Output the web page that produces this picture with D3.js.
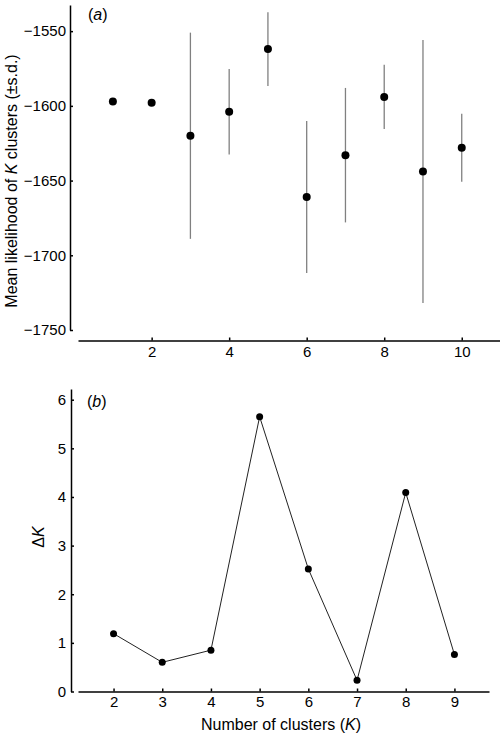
<!DOCTYPE html>
<html>
<head>
<meta charset="utf-8">
<script src="https://cdnjs.cloudflare.com/ajax/libs/d3/7.8.5/d3.min.js"></script>
<style>
  body { margin: 0; background: #fff; }
  svg { display: block; font-family: "Liberation Sans", Arial, sans-serif; }
  .axis path, .axis line { stroke: #000; stroke-width: 1.5; }
  .axis text { font-size: 15px; fill: #000; }
</style>
</head>
<body>
<div class="chart"></div>
<script>
// panel (a): mean likelihood per K with s.d.
const kA = [1, 2, 3, 4, 5, 6, 7, 8, 9, 10];
const meanA = [-1597, -1598, -1620, -1604, -1562, -1661, -1633, -1594, -1644, -1628];
const sdA = [0, 0, 69, 28.6, 24.7, 50.8, 45, 21.5, 88, 22.8];
const xTicksA = [2, 4, 6, 8, 10];
const yTicksA = [-1550, -1600, -1650, -1700, -1750];

// panel (b): delta K
const kB = [2, 3, 4, 5, 6, 7, 8, 9];
const deltaK = [1.19, 0.6, 0.85, 5.65, 2.52, 0.23, 4.09, 0.76];
const yTicksB = [0, 1, 2, 3, 4, 5, 6];

const width = 500, height = 736;
const fmt = d3.format('d');

const svg = d3.select('.chart')
    .append('svg')
    .attr('width', width)
    .attr('height', height);

// ---- panel (a)
const xA = d3.scaleLinear().domain([0.1, 11]).range([78, 500.5]);
const yA = d3.scaleLinear().domain([-1750, -1532.5]).range([330, 5]);

const pointsA = kA.map((k, i) => ({ k: k, mean: meanA[i], sd: sdA[i] }));

svg.append('g')
    .attr('class', 'axis')
    .attr('transform', 'translate(70,0)')
    .call(d3.axisLeft(yA).tickValues(yTicksA).tickFormat(fmt).tickSize(-3).tickSizeOuter(0).tickPadding(4));

svg.append('g')
    .attr('class', 'axis')
    .attr('transform', 'translate(0,340.5)')
    .call(d3.axisBottom(xA).tickValues(xTicksA).tickFormat(fmt).tickSize(-3).tickSizeOuter(0).tickPadding(6));

// error bars
svg.append('g')
    .selectAll('line')
    .data(pointsA.filter(d => d.sd > 0))
    .enter().append('line')
    .attr('x1', d => xA(d.k))
    .attr('x2', d => xA(d.k))
    .attr('y1', d => yA(d.mean + d.sd))
    .attr('y2', d => yA(d.mean - d.sd))
    .attr('stroke', '#808080')
    .attr('stroke-width', 1.3);

svg.append('g')
    .selectAll('circle')
    .data(pointsA)
    .enter().append('circle')
    .attr('cx', d => xA(d.k))
    .attr('cy', d => yA(d.mean))
    .attr('r', 4)
    .attr('fill', '#000');

svg.append('text')
    .attr('x', 88)
    .attr('y', 20)
    .attr('font-size', '16px')
    .html('(<tspan font-style="italic">a</tspan>)');

svg.append('text')
    .attr('transform', 'translate(17,181) rotate(-90)')
    .attr('text-anchor', 'middle')
    .attr('font-size', '16px')
    .html('Mean likelihood of <tspan font-style="italic">K</tspan> clusters (±s.d.)');

// ---- panel (b)
const xB = d3.scaleLinear().domain([1.27, 9.71]).range([78, 489]);
const yB = d3.scaleLinear().domain([0, 6.22]).range([691.5, 389]);

svg.append('g')
    .attr('class', 'axis')
    .attr('transform', 'translate(71,0)')
    .call(d3.axisLeft(yB).tickValues(yTicksB).tickFormat(fmt).tickSize(-3).tickSizeOuter(0).tickPadding(5));

svg.append('g')
    .attr('class', 'axis')
    .attr('transform', 'translate(0,691.5)')
    .call(d3.axisBottom(xB).tickValues(kB).tickFormat(fmt).tickSize(-3).tickSizeOuter(0).tickPadding(5));

const line = d3.line()
    .x((d, i) => xB(kB[i]))
    .y(d => yB(d));

svg.append('path')
    .datum(deltaK)
    .attr('d', line)
    .attr('fill', 'none')
    .attr('stroke', '#222')
    .attr('stroke-width', 1);

svg.append('g')
    .selectAll('circle')
    .data(deltaK)
    .enter().append('circle')
    .attr('cx', (d, i) => xB(kB[i]))
    .attr('cy', d => yB(d))
    .attr('r', 3.5)
    .attr('fill', '#000');

svg.append('text')
    .attr('x', 87)
    .attr('y', 407)
    .attr('font-size', '16px')
    .html('(<tspan font-style="italic">b</tspan>)');

svg.append('text')
    .attr('transform', 'translate(44,537) rotate(-90)')
    .attr('text-anchor', 'middle')
    .attr('font-size', '16px')
    .html('Δ<tspan font-style="italic">K</tspan>');

svg.append('text')
    .attr('x', 281)
    .attr('y', 730)
    .attr('text-anchor', 'middle')
    .attr('font-size', '16px')
    .html('Number of clusters (<tspan font-style="italic">K</tspan>)');
</script>
</body>
</html>
